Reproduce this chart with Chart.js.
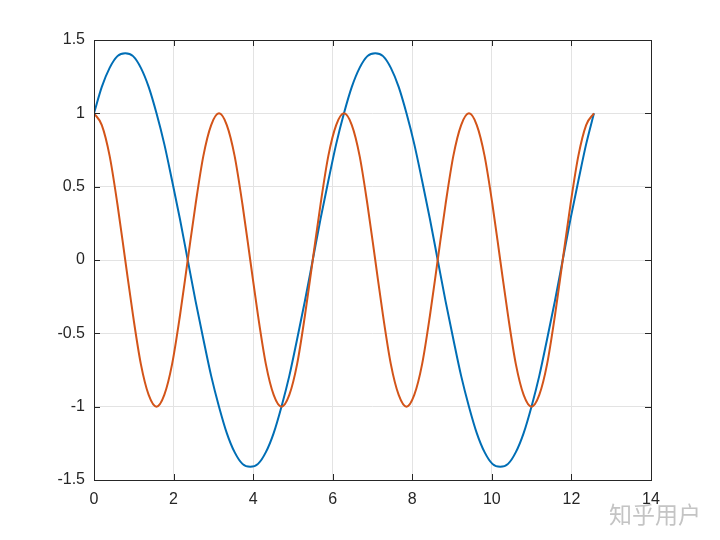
<!DOCTYPE html>
<html>
<head>
<meta charset="utf-8">
<script src="https://cdn.jsdelivr.net/npm/chart.js@4/dist/chart.umd.min.js"></script>
<style>
  body { margin: 0; background: #fff; }
  canvas { display: block; }
</style>
</head>
<body>
<canvas id="plot" width="720" height="540"></canvas>
<script>
/* -----------------------
data
-------------------------- */
const xs = [0, 0.196, 0.393, 0.589, 0.785, 0.982, 1.178, 1.374, 1.571, 1.767, 1.963, 2.160, 2.356, 2.553, 2.749, 2.945,
  3.142, 3.338, 3.534, 3.731, 3.927, 4.123, 4.320, 4.516, 4.712, 4.909, 5.105, 5.301, 5.498, 5.694, 5.890, 6.087,
  6.283, 6.480, 6.676, 6.872, 7.069, 7.265, 7.461, 7.658, 7.854, 8.050, 8.247, 8.443, 8.639, 8.836, 9.032, 9.228,
  9.425, 9.621, 9.817, 10.014, 10.210, 10.407, 10.603, 10.799, 10.996, 11.192, 11.388, 11.585, 11.781, 11.977, 12.174, 12.370,
  12.566];

// blue curve
const blueY = [1, 1.18, 1.31, 1.39, 1.41, 1.39, 1.31, 1.18, 1, 0.79, 0.54, 0.28, 0, -0.28, -0.54, -0.79,
  -1, -1.18, -1.31, -1.39, -1.41, -1.39, -1.31, -1.18, -1, -0.79, -0.54, -0.28, 0, 0.28, 0.54, 0.79,
  1, 1.18, 1.31, 1.39, 1.41, 1.39, 1.31, 1.18, 1, 0.79, 0.54, 0.28, 0, -0.28, -0.54, -0.79,
  -1, -1.18, -1.31, -1.39, -1.41, -1.39, -1.31, -1.18, -1, -0.79, -0.54, -0.28, 0, 0.28, 0.54, 0.79,
  1];

// orange curve
const orangeY = [1, 0.92, 0.71, 0.38, 0, -0.38, -0.71, -0.92, -1, -0.92, -0.71, -0.38, 0, 0.38, 0.71, 0.92,
  1, 0.92, 0.71, 0.38, 0, -0.38, -0.71, -0.92, -1, -0.92, -0.71, -0.38, 0, 0.38, 0.71, 0.92,
  1, 0.92, 0.71, 0.38, 0, -0.38, -0.71, -0.92, -1, -0.92, -0.71, -0.38, 0, 0.38, 0.71, 0.92,
  1, 0.92, 0.71, 0.38, 0, -0.38, -0.71, -0.92, -1, -0.92, -0.71, -0.38, 0, 0.38, 0.71, 0.92,
  1];

const xTicks = [0, 2, 4, 6, 8, 10, 12, 14];
const yTicks = [-1.5, -1, -0.5, 0, 0.5, 1, 1.5];

const axisColor = "#262626";
const watermark = "知乎用户";

function toPoints(ys) {
  return xs.map((x, i) => ({ x: x, y: ys[i] }));
}

/* -----------------------
box, inward ticks, watermark
-------------------------- */
const matlabBox = {
  id: "matlabBox",
  afterDatasetsDraw(chart) {
    const ctx = chart.ctx;
    const a = chart.chartArea;
    const sx = chart.scales.x;
    const sy = chart.scales.y;
    ctx.save();
    ctx.strokeStyle = axisColor;
    ctx.lineWidth = 1;
    ctx.beginPath();
    xTicks.forEach(function (t) {
      const px = Math.round(sx.getPixelForValue(t)) + 0.5;
      ctx.moveTo(px, a.bottom); ctx.lineTo(px, a.bottom - 6);
      ctx.moveTo(px, a.top); ctx.lineTo(px, a.top + 6);
    });
    yTicks.forEach(function (t) {
      const py = Math.round(sy.getPixelForValue(t)) + 0.5;
      ctx.moveTo(a.left, py); ctx.lineTo(a.left + 6, py);
      ctx.moveTo(a.right, py); ctx.lineTo(a.right - 6, py);
    });
    ctx.stroke();
    ctx.strokeRect(Math.round(a.left) + 0.5, Math.round(a.top) + 0.5,
      Math.round(a.right - a.left), Math.round(a.bottom - a.top));
    ctx.restore();
  },
  afterDraw(chart) {
    const ctx = chart.ctx;
    ctx.save();
    ctx.font = '23px "Noto Sans CJK SC"';
    ctx.fillStyle = "#c4c4c4";
    ctx.textBaseline = "middle";
    ctx.fillText(watermark, 609, 514);
    ctx.restore();
  }
};

new Chart(document.getElementById("plot"), {
  type: "scatter",
  data: {
    datasets: [
      {
        data: toPoints(orangeY),
        showLine: true,
        borderColor: "#D35419",
        borderWidth: 2,
        pointRadius: 0,
        cubicInterpolationMode: "monotone"
      },
      {
        data: toPoints(blueY),
        showLine: true,
        borderColor: "#006EB5",
        borderWidth: 2,
        pointRadius: 0,
        cubicInterpolationMode: "monotone"
      }
    ]
  },
  options: {
    responsive: false,
    animation: false,
    layout: { padding: { top: 40, right: 69, left: 0, bottom: 0 } },
    plugins: { legend: { display: false }, tooltip: { enabled: false } },
    scales: {
      x: {
        type: "linear",
        min: 0,
        max: 14,
        afterBuildTicks(s) { s.ticks = xTicks.map(v => ({ value: v })); },
        afterFit(s) { s.height = 60; },
        grid: { color: "#e3e3e3", drawTicks: false },
        border: { display: false },
        ticks: {
          padding: 10,
          color: axisColor,
          font: { family: "Liberation Sans", size: 16 },
          callback: v => String(v)
        }
      },
      y: {
        type: "linear",
        min: -1.5,
        max: 1.5,
        afterBuildTicks(s) { s.ticks = yTicks.map(v => ({ value: v })); },
        afterFit(s) { s.width = 94; },
        grid: { color: "#e3e3e3", drawTicks: false },
        border: { display: false },
        ticks: {
          padding: 9,
          color: axisColor,
          font: { family: "Liberation Sans", size: 16 },
          callback: v => String(v)
        }
      }
    }
  },
  plugins: [matlabBox]
});
</script>
</body>
</html>
